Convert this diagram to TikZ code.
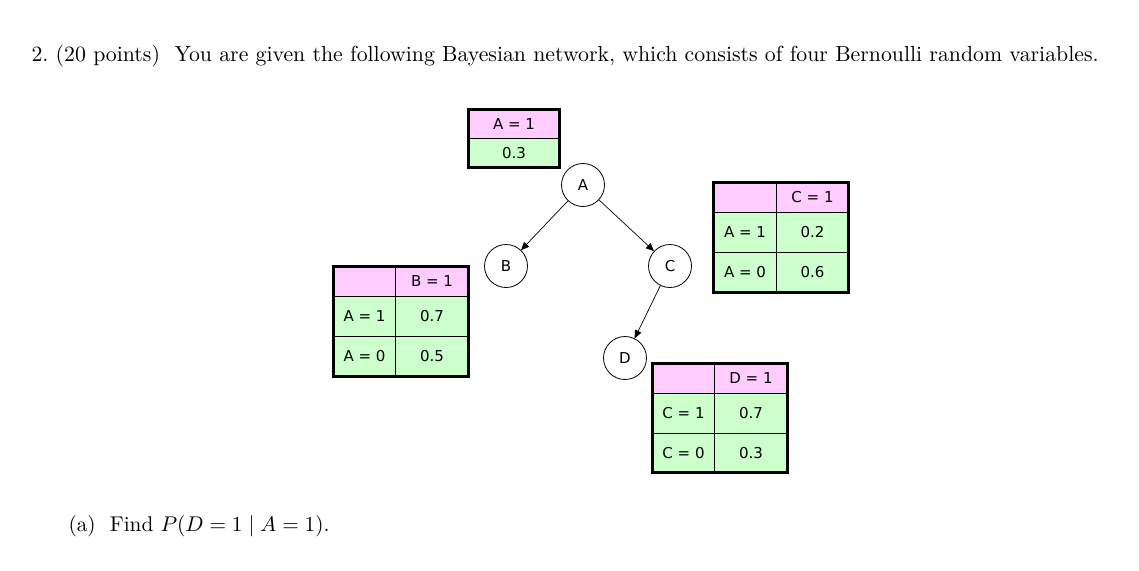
\documentclass[tikz,border=0pt]{standalone}
\usepackage{fontspec}
\newfontfamily\vf{DejaVu Sans}
\usetikzlibrary{arrows.meta}
\definecolor{pk}{HTML}{FFCCFF}
\definecolor{gr}{HTML}{CCFFCC}
\newcommand\cellbox[6]{\node[cellst,fill=#5,minimum width=#3pt,minimum height=#4pt,anchor=north west] (#6) at (#1pt,-#2pt) {#6txt};}
\tikzset{
 cellst/.style={draw,line width=1pt,inner sep=0pt,font=\vf\fontsize{15}{18}\selectfont},
 var/.style={draw,circle,line width=0.8pt,minimum size=43pt,inner sep=0pt,font=\vf\fontsize{15}{18}\selectfont},
 frame/.style={draw,line width=3pt},
 arr/.style={-{Triangle[length=8pt,width=7pt]},line width=0.7pt}
}
\newcommand\cel[7]{\node[cellst,fill=#5,minimum width=#3pt,minimum height=#4pt,anchor=north west] (#6) at (#1pt,-#2pt) {#7};}
\begin{document}
\begin{tikzpicture}[x=1pt,y=1pt]
\useasboundingbox[fill=white] (0,0) rectangle (1139,-570);
\node[anchor=west] (title) at (28,-56) {\resizebox{1067pt}{!}{2.\ (20 points)\ \ You are given the following Bayesian network, which consists of four Bernoulli random variables.}};
\node[anchor=west] (qa) at (65,-526) {\resizebox{261pt}{!}{(a)\ \ Find $P(D=1\mid A=1)$.}};
% table A
\cel{468}{109}{91}{29}{pk}{ta1}{A = 1}
\cel{468}{138}{91}{29}{gr}{ta2}{0.3}
\draw[frame] (468,-109) rectangle (559,-167);
% table C
\cel{713}{182}{63}{30}{pk}{tc11}{}
\cel{776}{182}{72}{30}{pk}{tc12}{C = 1}
\cel{713}{212}{63}{40}{gr}{tc21}{A = 1}
\cel{776}{212}{72}{40}{gr}{tc22}{0.2}
\cel{713}{252}{63}{40}{gr}{tc31}{A = 0}
\cel{776}{252}{72}{40}{gr}{tc32}{0.6}
\draw[frame] (713,-182) rectangle (848,-292);
% table B
\cel{333}{266}{62}{30}{pk}{tb11}{}
\cel{395}{266}{73}{30}{pk}{tb12}{B = 1}
\cel{333}{296}{62}{40}{gr}{tb21}{A = 1}
\cel{395}{296}{73}{40}{gr}{tb22}{0.7}
\cel{333}{336}{62}{40}{gr}{tb31}{A = 0}
\cel{395}{336}{73}{40}{gr}{tb32}{0.5}
\draw[frame] (333,-266) rectangle (468,-376);
% table D
\cel{652}{363}{62}{30}{pk}{td11}{}
\cel{714}{363}{73}{30}{pk}{td12}{D = 1}
\cel{652}{393}{62}{40}{gr}{td21}{C = 1}
\cel{714}{393}{73}{40}{gr}{td22}{0.7}
\cel{652}{433}{62}{40}{gr}{td31}{C = 0}
\cel{714}{433}{73}{40}{gr}{td32}{0.3}
\draw[frame] (652,-363) rectangle (787,-472);
% nodes
\node[var] (A) at (583,-185) {A};
\node[var] (B) at (506,-266) {B};
\node[var] (C) at (670,-266) {C};
\node[var] (D) at (625,-358) {D};
\draw[arr] (A) -- (B);
\draw[arr] (A) -- (C);
\draw[arr] (C) -- (D);
\end{tikzpicture}
\end{document}
